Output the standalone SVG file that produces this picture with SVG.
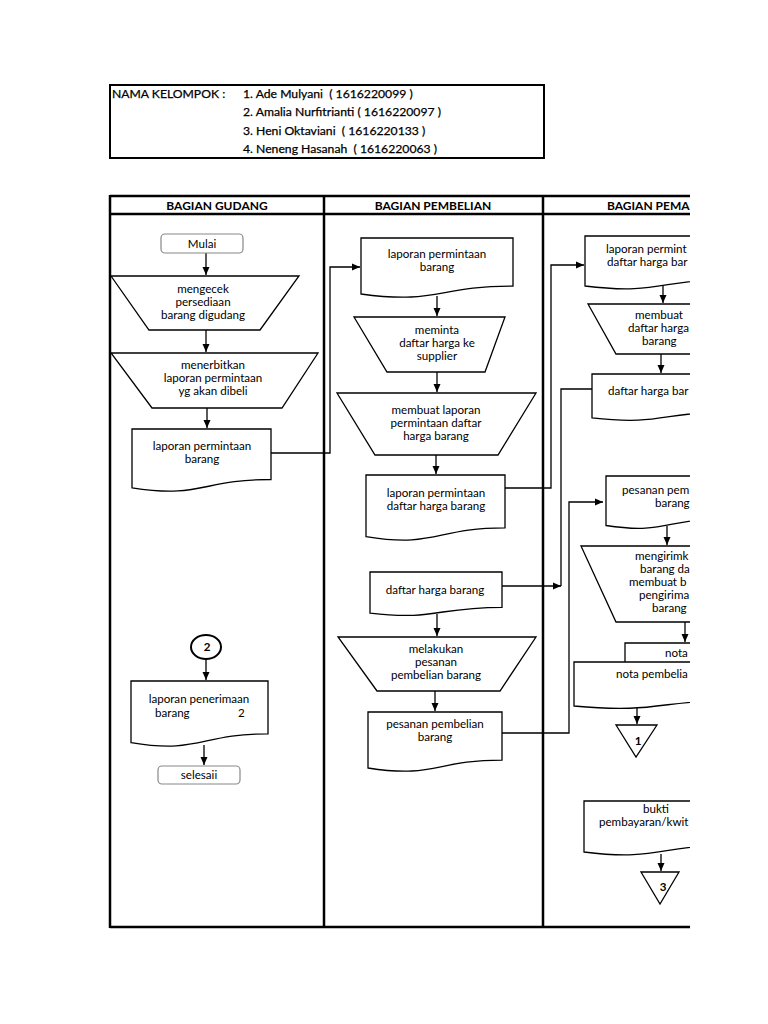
<svg xmlns="http://www.w3.org/2000/svg" width="768" height="1024" viewBox="0 0 768 1024">
<style>
.t{font-family:Lato,"Liberation Sans",sans-serif;font-size:11.6px;fill:#000;text-anchor:middle}
.s{font-family:Lato,"Liberation Sans",sans-serif;font-size:11.6px;fill:#000}
.h{font-family:Lato,"Liberation Sans",sans-serif;font-size:12px;font-weight:bold;fill:#000;text-anchor:middle}
.n{font-family:Lato,"Liberation Sans",sans-serif;font-size:12.2px;fill:#000;white-space:pre;stroke:#000;stroke-width:0.25}
.sh{fill:#fff;stroke:#000;stroke-width:1.3}
.fr{stroke:#000;stroke-width:2.5;fill:none}
.c{fill:none;stroke:#000;stroke-width:1.3}
</style>
<defs>
<marker id="a" markerUnits="userSpaceOnUse" markerWidth="10" markerHeight="10" refX="9" refY="5" orient="auto">
<path d="M1,1.5 L9,5 L1,8.5 Z" fill="#000"/>
</marker>
<clipPath id="cp"><rect x="0" y="0" width="690" height="1024"/></clipPath>
</defs>
<rect width="768" height="1024" fill="#fff"/>

<g id="header-box">
<rect x="110" y="85" width="434" height="73" fill="none" stroke="#000" stroke-width="2"/>
<text class="n" x="112" y="98">NAMA KELOMPOK :</text>
<text class="n" x="243" y="98" xml:space="preserve">1. Ade Mulyani  ( 1616220099 )</text>
<text class="n" x="243" y="116" xml:space="preserve">2. Amalia Nurfitrianti ( 1616220097 )</text>
<text class="n" x="243" y="135" xml:space="preserve">3. Heni Oktaviani  ( 1616220133 )</text>
<text class="n" x="243" y="153" xml:space="preserve">4. Neneng Hasanah  ( 1616220063 )</text>
</g>

<g id="frame" clip-path="url(#cp)">
<line class="fr" x1="110" y1="196" x2="700" y2="196"/>
<line class="fr" x1="110" y1="214" x2="700" y2="214"/>
<line class="fr" x1="110" y1="927" x2="700" y2="927"/>
<line class="fr" x1="110" y1="195" x2="110" y2="928"/>
<line class="fr" x1="324" y1="196" x2="324" y2="927"/>
<line class="fr" x1="543" y1="196" x2="543" y2="927"/>
<text class="h" x="217" y="210">BAGIAN GUDANG</text>
<text class="h" x="433" y="210">BAGIAN PEMBELIAN</text>
<text class="h" x="607" y="210" style="text-anchor:start">BAGIAN PEMA</text>
</g>

<g id="connectors" clip-path="url(#cp)">
<line class="c" x1="206" y1="253" x2="206" y2="275" marker-end="url(#a)"/>
<line class="c" x1="206" y1="330" x2="206" y2="352" marker-end="url(#a)"/>
<line class="c" x1="207" y1="408" x2="207" y2="428" marker-end="url(#a)"/>
<polyline class="c" points="271,453 330,453 330,267 360,267" marker-end="url(#a)"/>
<line class="c" x1="206" y1="659" x2="206" y2="680" marker-end="url(#a)"/>
<line class="c" x1="204" y1="745" x2="204" y2="765" marker-end="url(#a)"/>
<line class="c" x1="437" y1="296" x2="437" y2="316" marker-end="url(#a)"/>
<line class="c" x1="437" y1="372" x2="437" y2="392" marker-end="url(#a)"/>
<line class="c" x1="436" y1="455" x2="436" y2="474" marker-end="url(#a)"/>
<polyline class="c" points="505,488 551,488 551,265 584,265" marker-end="url(#a)"/>
<line class="c" x1="437" y1="614" x2="437" y2="636" marker-end="url(#a)"/>
<line class="c" x1="435" y1="691" x2="435" y2="711" marker-end="url(#a)"/>
<polyline class="c" points="592,389 561,389 561,586"/>
<line class="c" x1="502" y1="586" x2="561" y2="586" marker-end="url(#a)"/>
<polyline class="c" points="502,733 569,733 569,502 603,502" marker-end="url(#a)"/>
<line class="c" x1="663" y1="284" x2="663" y2="303" marker-end="url(#a)"/>
<line class="c" x1="661" y1="354" x2="661" y2="373" marker-end="url(#a)"/>
<line class="c" x1="667" y1="526" x2="667" y2="545" marker-end="url(#a)"/>
<line class="c" x1="685" y1="622" x2="685" y2="642" marker-end="url(#a)"/>
<line class="c" x1="637" y1="707" x2="637" y2="724" marker-end="url(#a)"/>
<line class="c" x1="661" y1="854" x2="661" y2="871" marker-end="url(#a)"/>
</g>

<g id="mulai">
<rect x="161" y="234" width="82" height="19" rx="4" fill="#fff" stroke="#888" stroke-width="1.2"/>
<text class="t" x="202" y="248">Mulai</text>
</g>
<g id="mengecek">
<path class="sh" d="M111,276 H299 L260,330 H149 Z"/>
<text class="t" x="203" y="293">mengecek</text>
<text class="t" x="203" y="306">persediaan</text>
<text class="t" x="203" y="319">barang digudang</text>
</g>
<g id="menerbitkan">
<path class="sh" d="M111,353 H318 L282,408 H152 Z"/>
<text class="t" x="213" y="369">menerbitkan</text>
<text class="t" x="213" y="382">laporan permintaan</text>
<text class="t" x="213" y="395">yg akan dibeli</text>
</g>
<g id="laporan-permintaan-gudang">
<path class="sh" d="M132,429 H271 V479.5 C201.5,479.5 201.5,498.7 132,487.8 Z"/>
<text class="t" x="202" y="450">laporan permintaan</text>
<text class="t" x="202" y="463">barang</text>
</g>
<g id="conn-2">
<ellipse cx="206" cy="647" rx="15" ry="12" fill="#fff" stroke="#000" stroke-width="2"/>
<text class="t" x="207" y="651" font-weight="bold">2</text>
</g>
<g id="laporan-penerimaan">
<path class="sh" d="M131,681 H268 V733.9 C199.5,733.9 199.5,754.1 131,742.6 Z"/>
<text class="t" x="199" y="703">laporan penerimaan</text>
<text class="s" x="155" y="717">barang</text>
<text class="s" x="238" y="717">2</text>
</g>
<g id="selesai">
<rect x="158" y="766" width="82" height="18" rx="4" fill="#fff" stroke="#888" stroke-width="1.2"/>
<text class="t" x="199" y="779">selesaii</text>
</g>

<g id="laporan-permintaan-pembelian">
<path class="sh" d="M361,238 H513 V286.1 C437,286.1 437,304.4 361,294 Z"/>
<text class="t" x="437" y="258">laporan permintaan</text>
<text class="t" x="437" y="271">barang</text>
</g>
<g id="meminta">
<path class="sh" d="M354,317 H505 L485,372 H387 Z"/>
<text class="t" x="437" y="334">meminta</text>
<text class="t" x="437" y="347">daftar harga ke</text>
<text class="t" x="437" y="360">supplier</text>
</g>
<g id="membuat-laporan">
<path class="sh" d="M337,393 H536 L498,455 H375 Z"/>
<text class="t" x="436" y="414">membuat laporan</text>
<text class="t" x="436" y="427">permintaan daftar</text>
<text class="t" x="436" y="440">harga barang</text>
</g>
<g id="laporan-permintaan-daftar">
<path class="sh" d="M366,475 H505 V527.9 C435.5,527.9 435.5,548.1 366,536.6 Z"/>
<text class="t" x="436" y="497">laporan permintaan</text>
<text class="t" x="436" y="510">daftar harga barang</text>
</g>
<g id="daftar-harga-pembelian">
<path class="sh" d="M370,572 H502 V607.3 C436,607.3 436,620.7 370,613.1 Z"/>
<text class="t" x="435" y="594">daftar harga barang</text>
</g>
<g id="melakukan-pesanan">
<path class="sh" d="M338,637 H536 L500,691 H377 Z"/>
<text class="t" x="436" y="653">melakukan</text>
<text class="t" x="436" y="666">pesanan</text>
<text class="t" x="436" y="679">pembelian barang</text>
</g>
<g id="pesanan-pembelian">
<path class="sh" d="M368,712 H502 V760.1 C435,760.1 435,778.4 368,768 Z"/>
<text class="t" x="435" y="728">pesanan pembelian</text>
<text class="t" x="435" y="741">barang</text>
</g>

<g id="col3" clip-path="url(#cp)">
<g id="laporan-permintaan-pemasok">
<path class="sh" d="M585,236 H735 V278.9 C660,278.9 660,295.2 585,286 Z"/>
<text class="s" x="606" y="253">laporan permint</text>
<text class="s" x="607" y="266">daftar harga bar</text>
</g>
<g id="membuat-daftar">
<path class="sh" d="M588,304 H740 L712,354 H616 Z"/>
<text class="s" x="635" y="319">membuat</text>
<text class="s" x="628" y="332">daftar harga</text>
<text class="s" x="642" y="345">barang</text>
</g>
<g id="daftar-harga-pemasok">
<path class="sh" d="M592,374 H732 V411.7 C662,411.7 662,426 592,417.9 Z"/>
<text class="s" x="608" y="395">daftar harga bar</text>
</g>
<g id="pesanan-pemasok">
<path class="sh" d="M606,476 H726 V518.5 C666,518.5 666,534.7 606,525.5 Z"/>
<text class="s" x="622" y="494">pesanan pem</text>
<text class="s" x="655" y="507">barang</text>
</g>
<g id="mengirimkan">
<path class="sh" d="M581,546 H760 L730,622 H616 Z"/>
<text class="s" x="635" y="560">mengirimk</text>
<text class="s" x="640" y="573">barang da</text>
<text class="s" x="629" y="586">membuat b</text>
<text class="s" x="639" y="599">pengirima</text>
<text class="s" x="652" y="612">barang</text>
</g>
<g id="nota">
<path class="sh" d="M625,662 V643 H760 V662"/>
<path class="sh" d="M574,662 H744 V699.7 C659,699.7 659,714 574,706 Z"/>
<text class="s" x="665" y="657">nota</text>
<text class="s" x="616" y="678">nota pembelia</text>
</g>
<g id="conn-1">
<path class="sh" d="M616,725 H657 L636,757 Z"/>
<text class="t" x="638" y="745" font-weight="bold">1</text>
</g>
<g id="bukti">
<path class="sh" d="M584,801 H734 V844.8 C659,844.8 659,861.4 584,852 Z"/>
<text class="s" x="643" y="813">bukti</text>
<text class="s" x="599" y="826">pembayaran/kwit</text>
</g>
<g id="conn-3">
<path class="sh" d="M641,872 H679 L660,904 Z"/>
<text class="t" x="663" y="891" font-weight="bold">3</text>
</g>
</g>
</svg>
